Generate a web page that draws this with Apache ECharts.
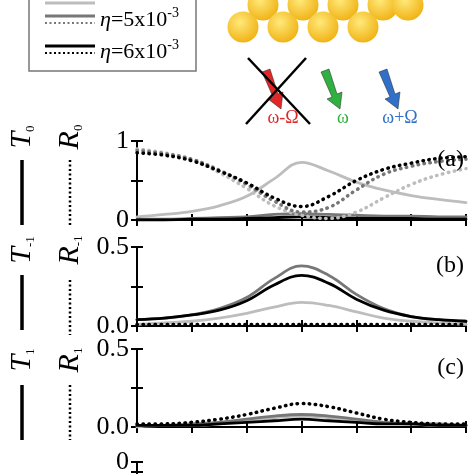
<!DOCTYPE html><html><head><meta charset="utf-8"><script src="https://cdn.jsdelivr.net/npm/echarts@6/dist/echarts.min.js"></script>
<style>html,body{margin:0;background:#fff}#c{width:474px;height:474px}</style></head><body><div id="c"></div><script>
const xs=[0,0.5,1,1.5,2,2.5,3,3.5,4,4.5,5,5.5,6];
// panel (a)
const aT_light=[0.04,0.07,0.11,0.18,0.30,0.52,0.73,0.62,0.48,0.38,0.31,0.26,0.22];
const aT_gray=[0.01,0.01,0.02,0.03,0.04,0.07,0.08,0.07,0.06,0.05,0.05,0.04,0.04];
const aT_black=[0.0,0.0,0.01,0.01,0.02,0.03,0.04,0.03,0.02,0.02,0.02,0.01,0.01];
const aR_light=[0.9,0.85,0.76,0.6,0.4,0.18,0.06,0.02,0.1,0.28,0.45,0.57,0.65];
const aR_gray=[0.88,0.84,0.77,0.63,0.45,0.24,0.1,0.16,0.38,0.58,0.68,0.74,0.77];
const aR_black=[0.85,0.82,0.75,0.62,0.47,0.28,0.17,0.3,0.5,0.64,0.72,0.78,0.8];
// panel (b)
const bT_light=[0.01,0.02,0.03,0.05,0.08,0.12,0.15,0.13,0.09,0.05,0.03,0.02,0.01];
const bT_gray=[0.04,0.05,0.07,0.11,0.18,0.3,0.38,0.32,0.2,0.11,0.06,0.04,0.03];
const bT_black=[0.04,0.05,0.07,0.1,0.16,0.26,0.32,0.27,0.17,0.1,0.06,0.04,0.03];
const bR_black=[0.01,0.01,0.01,0.01,0.01,0.01,0.01,0.01,0.01,0.01,0.01,0.01,0.01];
// panel (c)
const cT_light=[0.0,0.01,0.01,0.02,0.04,0.06,0.07,0.06,0.04,0.03,0.02,0.01,0.01];
const cT_gray=[0.01,0.01,0.02,0.03,0.05,0.07,0.08,0.07,0.05,0.03,0.02,0.02,0.01];
const cT_black=[0.01,0.01,0.01,0.02,0.03,0.04,0.05,0.04,0.03,0.02,0.02,0.01,0.01];
const cR_black=[0.02,0.02,0.03,0.05,0.08,0.12,0.15,0.13,0.09,0.05,0.03,0.02,0.02];
const yLabA=['0','1'], yLabB=['0.0','0.5'], yLabD=['','0'];

const LG='#bdbdbd',G='#777',K='#000';
const grids=[{top:141,h:79,max:1,lab:yLabA},{top:247,h:79,max:0.5,lab:yLabB},{top:349,h:78,max:0.5,lab:yLabB},{top:462,h:80,max:0.5,lab:yLabD}];
const grid=[],xAxis=[],yAxis=[],series=[];
const ax={lineStyle:{color:'#000',width:2}};
grids.forEach((g,i)=>{
 grid.push({left:137,width:329,top:g.top,height:g.h});
 const tick={show:true,inside:true,length:6,lineStyle:{color:'#000',width:2}};
 xAxis.push({type:'value',gridIndex:i,min:0,max:6,interval:1,axisLine:ax,axisTick:tick,axisLabel:{show:false},splitLine:{show:false}});
 xAxis.push({type:'value',gridIndex:i,position:'top',min:0,max:6,interval:1,axisLine:ax,axisTick:tick,axisLabel:{show:false},splitLine:{show:false}});
 yAxis.push({type:'value',gridIndex:i,min:0,max:g.max,interval:g.max/2,axisLine:ax,axisTick:tick,splitLine:{show:false},
  axisLabel:{fontFamily:'Liberation Serif',fontSize:26,color:'#000',margin:8,formatter:v=>v===0?g.lab[0]:(v===g.max?g.lab[1]:'')}});
 yAxis.push({type:'value',gridIndex:i,position:'right',min:0,max:g.max,interval:g.max/2,axisLine:ax,axisTick:tick,axisLabel:{show:false},splitLine:{show:false}});
});
function add(p,d,c,dot){series.push({type:'line',xAxisIndex:p*2,yAxisIndex:p*2,smooth:0.4,showSymbol:false,data:xs.map((x,i)=>[x,d[i]]),
 lineStyle:{color:c,width:dot?3.5:2.8,type:dot?[0.5,5.5]:'solid',cap:'round'},z:dot?3:2});}
add(0,aT_light,LG);add(0,aT_gray,G);add(0,aT_black,K);add(0,aR_light,LG,1);add(0,aR_gray,G,1);add(0,aR_black,K,1);
add(1,bT_light,LG);add(1,bT_gray,G);add(1,bT_black,K);add(1,bR_black,K,1);
add(2,cT_light,LG);add(2,cT_gray,G);add(2,cT_black,K);add(2,cR_black,K,1);

const gr=[];
const serif='Liberation Serif';
gr.push({type:'rect',shape:{x:29,y:-5,width:167,height:76},style:{fill:'#fff',stroke:'#777',lineWidth:1.5}});
gr.push({type:'line',shape:{x1:45,y1:3,x2:95,y2:3},style:{stroke:LG,lineWidth:3}});
gr.push({type:'line',shape:{x1:45,y1:16,x2:95,y2:16},style:{stroke:G,lineWidth:3}});
gr.push({type:'line',shape:{x1:45,y1:23,x2:95,y2:23},style:{stroke:G,lineWidth:2,lineDash:[2,2.5]}});
gr.push({type:'line',shape:{x1:45,y1:46,x2:95,y2:46},style:{stroke:K,lineWidth:3}});
gr.push({type:'line',shape:{x1:45,y1:53,x2:95,y2:53},style:{stroke:K,lineWidth:2,lineDash:[2,2.5]}});
[['5',20],['6',52]].forEach(([n,y])=>gr.push({type:'text',x:100,y:y,style:{text:'{i|η}=5x10{s|-3}'.replace('5x',n+'x'),verticalAlign:'middle',font:'22px '+serif,
 rich:{i:{fontStyle:'italic',fontFamily:serif,fontSize:22},s:{fontFamily:serif,fontSize:14,verticalAlign:'top',padding:[0,0,14,0]}}}}));
const ball=(x,y)=>gr.push({type:'circle',shape:{cx:x,cy:y,r:15.5},style:{fill:new echarts.graphic.RadialGradient(0.4,0.35,0.7,[{offset:0,color:'#ffe97a'},{offset:1,color:'#f0b010'}])}});
[263,303,343,383,408].forEach(x=>ball(x,5));
[243,283,323,363].forEach(x=>ball(x,27));
const arrow=(x,y,c,lab,lx)=>{gr.push({type:'polygon',shape:{points:[[x-4,y],[x+4,y-3],[x+12,y+22],[x+17,y+20],[x+15,y+37],[x+2,y+27],[x+7,y+25]]},style:{fill:c,stroke:'#222',lineWidth:0.5}});
 gr.push({type:'text',x:lx,y:y+46,style:{text:lab,fill:c,font:'18px '+serif,align:'center',verticalAlign:'middle'}});};
arrow(266,72,'#e02828','ω-Ω',283);arrow(325,72,'#30b040','ω',343);arrow(383,72,'#3070c8','ω+Ω',400);
gr.push({type:'line',shape:{x1:248,y1:58,x2:310,y2:124},style:{stroke:'#000',lineWidth:2.5}});
gr.push({type:'line',shape:{x1:306,y1:58,x2:246,y2:124},style:{stroke:'#000',lineWidth:2.5}});
function side(x,ytext,y1,y2,main,sub,dot){
 gr.push({type:'text',x:x,y:ytext,rotation:Math.PI/2,style:{text:'{m|'+main+'}{s|'+sub+'}',align:'center',verticalAlign:'middle',
  rich:{m:{fontFamily:serif,fontStyle:'italic',fontSize:30},s:{fontFamily:serif,fontSize:13,verticalAlign:'bottom'}}}});
 gr.push({type:'line',shape:{x1:x,y1:y1,x2:x,y2:y2},style:{stroke:'#000',lineWidth:dot?2.5:3.5,lineDash:dot?[2,2.5]:null}});
}
side(22,137,160,225,'T','0');side(70,137,160,225,'R','0',1);
side(22,250,275,330,'T','-1');side(70,250,280,335,'R','-1',1);
side(22,360,385,440,'T','1');side(70,360,385,440,'R','1',1);
[['(a)',160],['(b)',266],['(c)',368]].forEach(([t,y])=>gr.push({type:'text',x:464,y:y,z:10,style:{text:t,font:'24px '+serif,align:'right',verticalAlign:'middle'}}));
echarts.init(document.getElementById('c')).setOption({animation:false,grid,xAxis,yAxis,series,graphic:gr});
</script></body></html>
